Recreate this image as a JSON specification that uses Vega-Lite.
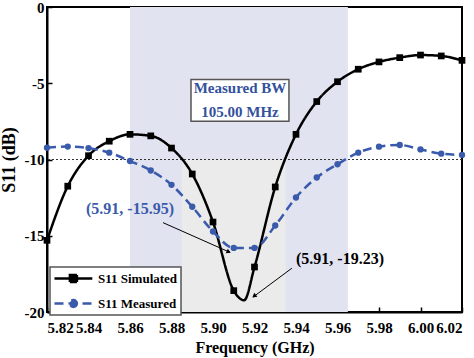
{
  "$schema": "https://vega.github.io/schema/vega-lite/v6.json",
  "width": 415,
  "height": 305,
  "autosize": {"type": "none"},
  "padding": {"left": 47, "top": 7, "right": 12, "bottom": 46},
  "background": "white",
  "config": {
    "view": {"stroke": "black", "strokeWidth": 2},
    "font": "Liberation Serif",
    "axis": {
      "domainColor": "black", "domainWidth": 2, "tickColor": "black", "tickWidth": 1.5,
      "tickSize": -5, "grid": false,
      "labelFont": "Liberation Serif", "labelFontWeight": "bold", "labelFontSize": 15, "labelColor": "black",
      "titleFont": "Liberation Serif", "titleFontWeight": "bold", "titleColor": "black"
    }
  },
  "datasets": {
    "curves": [
      {"f": 5.82, "s11": -15.3, "series": "S11 Simulated"},
      {"f": 5.83, "s11": -11.75, "series": "S11 Simulated"},
      {"f": 5.84, "s11": -9.75, "series": "S11 Simulated"},
      {"f": 5.85, "s11": -8.8, "series": "S11 Simulated"},
      {"f": 5.86, "s11": -8.35, "series": "S11 Simulated"},
      {"f": 5.87, "s11": -8.45, "series": "S11 Simulated"},
      {"f": 5.88, "s11": -9.25, "series": "S11 Simulated"},
      {"f": 5.89, "s11": -10.95, "series": "S11 Simulated"},
      {"f": 5.90, "s11": -14.1, "series": "S11 Simulated"},
      {"f": 5.91, "s11": -18.6, "series": "S11 Simulated"},
      {"f": 5.915, "s11": -19.23, "series": "S11 Simulated"},
      {"f": 5.92, "s11": -17.05, "series": "S11 Simulated"},
      {"f": 5.93, "s11": -11.8, "series": "S11 Simulated"},
      {"f": 5.94, "s11": -8.35, "series": "S11 Simulated"},
      {"f": 5.95, "s11": -6.2, "series": "S11 Simulated"},
      {"f": 5.96, "s11": -4.9, "series": "S11 Simulated"},
      {"f": 5.97, "s11": -4.08, "series": "S11 Simulated"},
      {"f": 5.98, "s11": -3.6, "series": "S11 Simulated"},
      {"f": 5.99, "s11": -3.32, "series": "S11 Simulated"},
      {"f": 6.00, "s11": -3.15, "series": "S11 Simulated"},
      {"f": 6.01, "s11": -3.21, "series": "S11 Simulated"},
      {"f": 6.02, "s11": -3.5, "series": "S11 Simulated"},
      {"f": 5.82, "s11": -9.23, "series": "S11 Measured"},
      {"f": 5.83, "s11": -9.15, "series": "S11 Measured"},
      {"f": 5.84, "s11": -9.25, "series": "S11 Measured"},
      {"f": 5.85, "s11": -9.55, "series": "S11 Measured"},
      {"f": 5.86, "s11": -10.1, "series": "S11 Measured"},
      {"f": 5.87, "s11": -10.72, "series": "S11 Measured"},
      {"f": 5.88, "s11": -11.66, "series": "S11 Measured"},
      {"f": 5.89, "s11": -13.1, "series": "S11 Measured"},
      {"f": 5.90, "s11": -14.72, "series": "S11 Measured"},
      {"f": 5.91, "s11": -15.8, "series": "S11 Measured"},
      {"f": 5.92, "s11": -15.8, "series": "S11 Measured"},
      {"f": 5.93, "s11": -14.33, "series": "S11 Measured"},
      {"f": 5.94, "s11": -12.49, "series": "S11 Measured"},
      {"f": 5.95, "s11": -11.18, "series": "S11 Measured"},
      {"f": 5.96, "s11": -10.31, "series": "S11 Measured"},
      {"f": 5.97, "s11": -9.55, "series": "S11 Measured"},
      {"f": 5.98, "s11": -9.16, "series": "S11 Measured"},
      {"f": 5.99, "s11": -9.05, "series": "S11 Measured"},
      {"f": 6.00, "s11": -9.34, "series": "S11 Measured"},
      {"f": 6.01, "s11": -9.62, "series": "S11 Measured"},
      {"f": 6.02, "s11": -9.7, "series": "S11 Measured"}
    ]
  },
  "layer": [
    {
      "data": {"values": [{"x1": 5.86, "x2": 5.965, "y1": 0, "y2": -20}]},
      "mark": {"type": "rect", "fill": "#e2e3f1"},
      "encoding": {
        "x": {"field": "x1", "type": "quantitative", "scale": {"domain": [5.82, 6.02], "nice": false, "zero": false},
          "title": "Frequency (GHz)",
          "axis": {"values": [5.82,5.83,5.84,5.85,5.86,5.87,5.88,5.89,5.9,5.91,5.92,5.93,5.94,5.95,5.96,5.97,5.98,5.99,6.0,6.01,6.02],
            "labelExpr": "round(datum.value*100) % 2 == 0 ? format(datum.value, '.2f') : ''",
            "titleFontSize": 16, "labelPadding": 13, "titlePadding": 4}},
        "x2": {"field": "x2"},
        "y": {"field": "y1", "type": "quantitative", "scale": {"domain": [-20, 0], "nice": false, "zero": false},
          "title": "S11 (dB)",
          "axis": {"values": [-20,-17.5,-15,-12.5,-10,-7.5,-5,-2.5,0],
            "labelExpr": "datum.value % 5 == 0 ? '' + datum.value : ''",
            "titleFontSize": 18, "labelPadding": 8, "titlePadding": 6}},
        "y2": {"field": "y2"}
      }
    },
    {
      "data": {"values": [{"x1": 5.885, "x2": 5.935, "y1": -10, "y2": -20}]},
      "mark": {"type": "rect", "fill": "#ebebeb"},
      "encoding": {
        "x": {"field": "x1", "type": "quantitative", "title": "Frequency (GHz)"},
        "x2": {"field": "x2"},
        "y": {"field": "y1", "type": "quantitative", "title": "S11 (dB)"},
        "y2": {"field": "y2"}
      }
    },
    {
      "data": {"values": [{"level": -10}]},
      "mark": {"type": "rule", "stroke": "#333", "strokeWidth": 1, "strokeDash": [2, 2]},
      "encoding": {"y": {"field": "level", "type": "quantitative", "title": "S11 (dB)"}}
    },
    {
      "data": {"name": "curves"},
      "mark": {"type": "line", "interpolate": "monotone", "strokeWidth": 2.5},
      "encoding": {
        "x": {"field": "f", "type": "quantitative", "title": "Frequency (GHz)"},
        "y": {"field": "s11", "type": "quantitative", "title": "S11 (dB)"},
        "color": {"field": "series", "type": "nominal",
          "scale": {"domain": ["S11 Simulated", "S11 Measured"], "range": ["black", "#3a5bab"]},
          "legend": {
            "orient": "none", "legendX": 3, "legendY": 260, "title": null, "direction": "vertical",
            "fillColor": "white", "strokeColor": "#555", "padding": 3, "rowPadding": 8,
            "labelFont": "Liberation Serif", "labelFontWeight": "bold", "labelFontSize": 13, "labelColor": "black",
            "symbolSize": 196, "labelOffset": 28, "symbolStrokeWidth": 2.5,
            "encode": {
              "legend": {"update": {"strokeWidth": {"value": 1.5}}},
              "symbols": {"update": {
                "shape": {"signal": "datum.value === 'S11 Simulated' ? 'M-1,0L4.4,0M1.2,-0.5L2.2,-0.5L2.2,0.5L1.2,0.5Z' : 'M-1,0L4.4,0M2.2,0A0.5,0.5,0,1,1,1.2,0A0.5,0.5,0,1,1,2.2,0Z'"},
                "fill": {"signal": "datum.value === 'S11 Simulated' ? 'black' : '#3a5bab'"}
              }}
            }
          }},
        "strokeDash": {"field": "series", "type": "nominal",
          "scale": {"domain": ["S11 Simulated", "S11 Measured"], "range": [[1, 0], [9, 5]]}}
      }
    },
    {
      "data": {"name": "curves"},
      "transform": [{"filter": "datum.series === 'S11 Simulated' && datum.f !== 5.915"}],
      "mark": {"type": "point", "shape": "square", "filled": true, "fill": "black", "size": 45, "opacity": 1},
      "encoding": {
        "x": {"field": "f", "type": "quantitative", "title": "Frequency (GHz)"},
        "y": {"field": "s11", "type": "quantitative", "title": "S11 (dB)"}
      }
    },
    {
      "data": {"name": "curves"},
      "transform": [{"filter": "datum.series === 'S11 Measured'"}],
      "mark": {"type": "point", "shape": "circle", "filled": true, "fill": "#3a5bab", "size": 40, "opacity": 1},
      "encoding": {
        "x": {"field": "f", "type": "quantitative", "title": "Frequency (GHz)"},
        "y": {"field": "s11", "type": "quantitative", "title": "S11 (dB)"}
      }
    },
    {
      "data": {"values": [
        {"fx": 5.8759, "sy": -14.14, "fx2": 5.9082, "sy2": -16.09},
        {"fx": 5.938, "sy": -17.13, "fx2": 5.9193, "sy2": -19.02}
      ]},
      "mark": {"type": "rule", "stroke": "black", "strokeWidth": 1},
      "encoding": {
        "x": {"field": "fx", "type": "quantitative", "title": "Frequency (GHz)"},
        "y": {"field": "sy", "type": "quantitative", "title": "S11 (dB)"},
        "x2": {"field": "fx2"},
        "y2": {"field": "sy2"}
      }
    },
    {
      "data": {"values": [
        {"fx": 5.9076, "sy": -16.06, "dir": 114.8},
        {"fx": 5.9198, "sy": -18.96, "dir": 231.9}
      ]},
      "mark": {"type": "point", "shape": "triangle-up", "filled": true, "fill": "black", "size": 26, "opacity": 1},
      "encoding": {
        "x": {"field": "fx", "type": "quantitative", "title": "Frequency (GHz)"},
        "y": {"field": "sy", "type": "quantitative", "title": "S11 (dB)"},
        "angle": {"field": "dir", "type": "quantitative", "scale": null}
      }
    },
    {
      "data": {"values": [{"x1": 5.8894, "x2": 5.9366, "y1": -4.76, "y2": -7.49}]},
      "mark": {"type": "rect", "fill": "white", "stroke": "#555", "strokeWidth": 1.5},
      "encoding": {
        "x": {"field": "x1", "type": "quantitative", "title": "Frequency (GHz)"},
        "x2": {"field": "x2"},
        "y": {"field": "y1", "type": "quantitative", "title": "S11 (dB)"},
        "y2": {"field": "y2"}
      }
    },
    {
      "data": {"values": [
        {"fx": 5.913, "sy": -5.31, "label": "Measured BW"},
        {"fx": 5.913, "sy": -6.87, "label": "105.00 MHz"}
      ]},
      "mark": {"type": "text", "font": "Liberation Serif", "fontWeight": "bold", "fontSize": 15, "color": "#34529c", "align": "center", "baseline": "middle"},
      "encoding": {
        "x": {"field": "fx", "type": "quantitative", "title": "Frequency (GHz)"},
        "y": {"field": "sy", "type": "quantitative", "title": "S11 (dB)"},
        "text": {"field": "label"}
      }
    },
    {
      "data": {"values": [{"fx": 5.86, "sy": -13.22, "label": "(5.91, -15.95)"}]},
      "mark": {"type": "text", "font": "Liberation Serif", "fontWeight": "bold", "fontSize": 16, "color": "#3a5bab", "align": "center", "baseline": "middle"},
      "encoding": {
        "x": {"field": "fx", "type": "quantitative", "title": "Frequency (GHz)"},
        "y": {"field": "sy", "type": "quantitative", "title": "S11 (dB)"},
        "text": {"field": "label"}
      }
    },
    {
      "data": {"values": [{"fx": 5.9612, "sy": -16.55, "label": "(5.91, -19.23)"}]},
      "mark": {"type": "text", "font": "Liberation Serif", "fontWeight": "bold", "fontSize": 16, "color": "black", "align": "center", "baseline": "middle"},
      "encoding": {
        "x": {"field": "fx", "type": "quantitative", "title": "Frequency (GHz)"},
        "y": {"field": "sy", "type": "quantitative", "title": "S11 (dB)"},
        "text": {"field": "label"}
      }
    }
  ]
}
